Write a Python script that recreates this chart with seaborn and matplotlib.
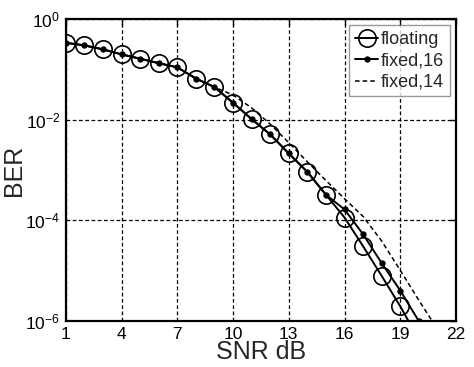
import numpy as np
import pandas as pd
import matplotlib
matplotlib.use("Agg")
import matplotlib.pyplot as plt
import seaborn as sns

# data
snr_float = [1, 2, 3, 4, 5, 6, 7, 8, 9, 10, 11, 12, 13, 14, 15, 16, 17, 18, 19, 20]
ber_float = [0.338, 0.30, 0.25, 0.199, 0.163, 0.133, 0.11, 0.066, 0.0445, 0.0217,
             0.0103, 0.0051, 0.00214, 9.2e-4, 3.24e-4, 1.14e-4, 3.07e-5, 7.9e-6,
             1.97e-6, 4.3e-7]

snr_fix16 = [1, 2, 3, 4, 5, 6, 7, 8, 9, 10, 11, 12, 13, 14, 15, 16, 17, 18, 19, 20]
ber_fix16 = [0.338, 0.30, 0.25, 0.199, 0.163, 0.133, 0.11, 0.066, 0.0445, 0.0217,
             0.0103, 0.0051, 0.00214, 9.2e-4, 3.24e-4, 1.65e-4, 5.3e-5, 1.42e-5,
             4.05e-6, 1.0e-6]

snr_fix14 = [1, 2, 3, 4, 5, 6, 7, 8, 9, 10, 11, 12, 13, 14, 15, 16, 17, 18, 19, 20, 21]
ber_fix14 = [0.338, 0.30, 0.25, 0.199, 0.163, 0.133, 0.11, 0.066, 0.0445, 0.031,
             0.0172, 0.0082, 0.0035, 0.00146, 6.2e-4, 2.7e-4, 1.2e-4, 3.9e-5,
             1.02e-5, 2.6e-6, 6.9e-7]

xticks = [1, 4, 7, 10, 13, 16, 19, 22]
yticks = [1e0, 1e-2, 1e-4, 1e-6]
ytick_labels = [r"$10^{0}$", r"$10^{-2}$", r"$10^{-4}$", r"$10^{-6}$"]

sns.set_style("white")
plt.rcParams["font.family"] = ["Liberation Sans", "DejaVu Sans"]
plt.rcParams["mathtext.fontset"] = "custom"
plt.rcParams["mathtext.rm"] = "Liberation Sans"
plt.rcParams["mathtext.it"] = "Liberation Sans"

fig = plt.figure(figsize=(4.74, 3.67), dpi=100)
ax = fig.add_axes([0.139, 0.125, 0.823, 0.823])

df_float = pd.DataFrame({"snr": snr_float, "ber": ber_float})
df_16 = pd.DataFrame({"snr": snr_fix16, "ber": ber_fix16})
df_14 = pd.DataFrame({"snr": snr_fix14, "ber": ber_fix14})

sns.lineplot(data=df_float, x="snr", y="ber", ax=ax, color="black", lw=1.4,
             marker="o", markersize=12.5, markerfacecolor="none",
             markeredgecolor="black", markeredgewidth=1.2, label="floating")
sns.lineplot(data=df_16, x="snr", y="ber", ax=ax, color="black", lw=1.4,
             marker="o", markersize=3.8, markeredgecolor="black",
             label="fixed,16")
sns.lineplot(data=df_14, x="snr", y="ber", ax=ax, color="black", lw=1.1,
             linestyle=(0, (3, 2)), label="fixed,14")

ax.set_yscale("log")
ax.set_xlim(1, 22)
ax.set_ylim(1e-6, 1)
ax.set_xticks(xticks)
ax.set_yticks(yticks)
ax.set_yticklabels(ytick_labels)
ax.minorticks_off()
ax.yaxis.set_minor_locator(matplotlib.ticker.NullLocator())

ax.grid(True, color="black", linestyle=(0, (3, 2)), lw=0.9)
ax.tick_params(direction="in", top=True, right=True, length=4, width=1,
               labelsize=12.5, colors="black", pad=4)
for s in ax.spines.values():
    s.set_color("black")
    s.set_linewidth(1.6)

ax.set_xlabel("SNR dB", fontsize=18, labelpad=-1)
ax.set_ylabel("BER", fontsize=18)
ax.yaxis.set_label_coords(-0.103, 0.5)

leg = ax.legend(loc="upper right", fontsize=13, frameon=True, fancybox=False,
                edgecolor="#808080", handlelength=1.3, handletextpad=0.15,
                borderpad=0.3, labelspacing=0.25, borderaxespad=0.35)
leg.get_frame().set_linewidth(1.0)

plt.savefig("out.png", dpi=100)
